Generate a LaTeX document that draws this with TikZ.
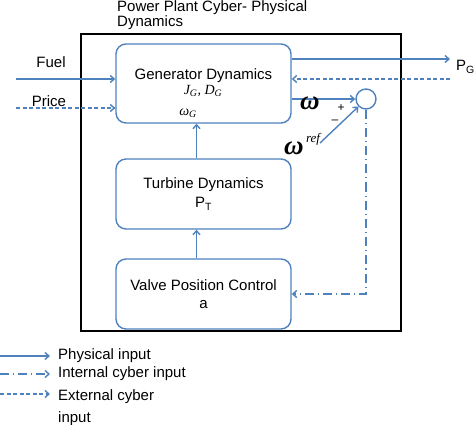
\documentclass[tikz,border=0pt]{standalone}
\usepackage{fontspec}
\setmainfont{Liberation Sans}
\newfontfamily\tser{Liberation Serif}
\usetikzlibrary{arrows.meta}
\definecolor{lb}{RGB}{79,129,189}
\begin{document}
\begin{tikzpicture}[x=1pt,y=-1pt,
  every node/.style={inner sep=0pt, font=\fontsize{15}{19}\selectfont},
  blk/.style={draw=lb, line width=1.4pt, rounded corners=10pt, minimum width=175pt, minimum height=70pt, align=center},
  tip/.style={-{Straight Barb[length=4pt,width=7pt]}},
  phys/.style={draw=lb, line width=1.4pt, tip},
  extc/.style={draw=lb, line width=1.4pt, tip, dash pattern=on 4pt off 2.5pt},
  intc/.style={draw=lb, line width=1.4pt, tip, dash pattern=on 9pt off 4pt on 1.2pt off 4pt},
  bigw/.style={font=\tser\bfseries\itshape\fontsize{27}{27}\selectfont},
  mathlbl/.style={font=\tser\itshape\fontsize{14}{14}\selectfont}
]
\useasboundingbox (0,0) rectangle (474,425);
% outer box
\node[draw=black, line width=1.8pt, minimum width=320pt, minimum height=297pt] (plant) at (241,182.5) {};
\node[anchor=west, align=left, font=\fontsize{15}{15.5}\selectfont] (title) at (117,15) {Power Plant Cyber- Physical\\Dynamics};
% blocks
\node[blk, minimum height=79pt] (gen) at (203.5,83.5) {};
\node (gentxt) at (203.5,76) {Generator Dynamics};
\node[mathlbl] (jd) at (203,91) {J\textsubscript{G}, D\textsubscript{G}};
\node[mathlbl] (wg) at (188,113) {ω\textsubscript{G}};
\node[blk, font=\fontsize{15}{19}\selectfont] (turb) at (203.5,194) {Turbine Dynamics\\P\textsubscript{T}};
\node[blk, font=\fontsize{15}{18}\selectfont] (valve) at (203.5,294) {Valve Position Control\\a};
\node[draw=lb, line width=1.4pt, circle, minimum size=20pt] (sum) at (366,99) {};
% inputs
\coordinate (fuelin) at (16,79);
\coordinate (pricein) at (16,108);
\node (fuel) at (51,62) {Fuel};
\node (price) at (49,101) {Price};
\draw[phys] (fuelin) -- (fuelin -| gen.west);
\draw[extc] (pricein) -- (pricein -| gen.west);
% outputs
\coordinate (pgout) at (450,59);
\coordinate (pgin) at (450,79);
\node[anchor=west] (pg) at (456,67) {P\textsubscript{G}};
\draw[phys] (pgout -| gen.east) -- (pgout);
\draw[extc] (pgin) -- (pgin -| gen.east);
% omega
\draw[phys] (gen.east |- sum) -- (sum.west);
\node[bigw] (w) at (310,103) {ω};
\node (plus) at (341,108) {\fontsize{12}{12}\selectfont +};
\node (minus) at (335,122) {\fontsize{12}{12}\selectfont --};
\coordinate (wref) at (320,143);
\draw[phys] (wref) -- (sum.south west);
\node[bigw] (w2) at (294,148) {ω};
\node[font=\tser\itshape\fontsize{13}{13}\selectfont] (ref) at (313,139) {ref};
% feedback
\draw[intc] (sum.south) |- (valve.east);
% vertical arrows
\coordinate (ax) at (196.5,0);
\draw[phys] (ax |- valve.north) -- (ax |- turb.south);
\draw[phys] (ax |- turb.north) -- (ax |- gen.south);
% legend
\coordinate (l1a) at (0,356); \coordinate (l1b) at (50,356);
\coordinate (l2a) at (0,374); \coordinate (l2b) at (50,374);
\coordinate (l3a) at (0,394); \coordinate (l3b) at (50,394);
\draw[phys] (l1a) -- (l1b);
\draw[intc] (l2a) -- (l2b);
\draw[extc] (l3a) -- (l3b);
\node[anchor=west] (t1) at (58,356) {Physical input};
\node[anchor=west] (t2) at (58,374) {Internal cyber input};
\node[anchor=west, align=left, font=\fontsize{15}{22}\selectfont] (t3) at (58,408) {External cyber\\input};
\end{tikzpicture}
\end{document}
